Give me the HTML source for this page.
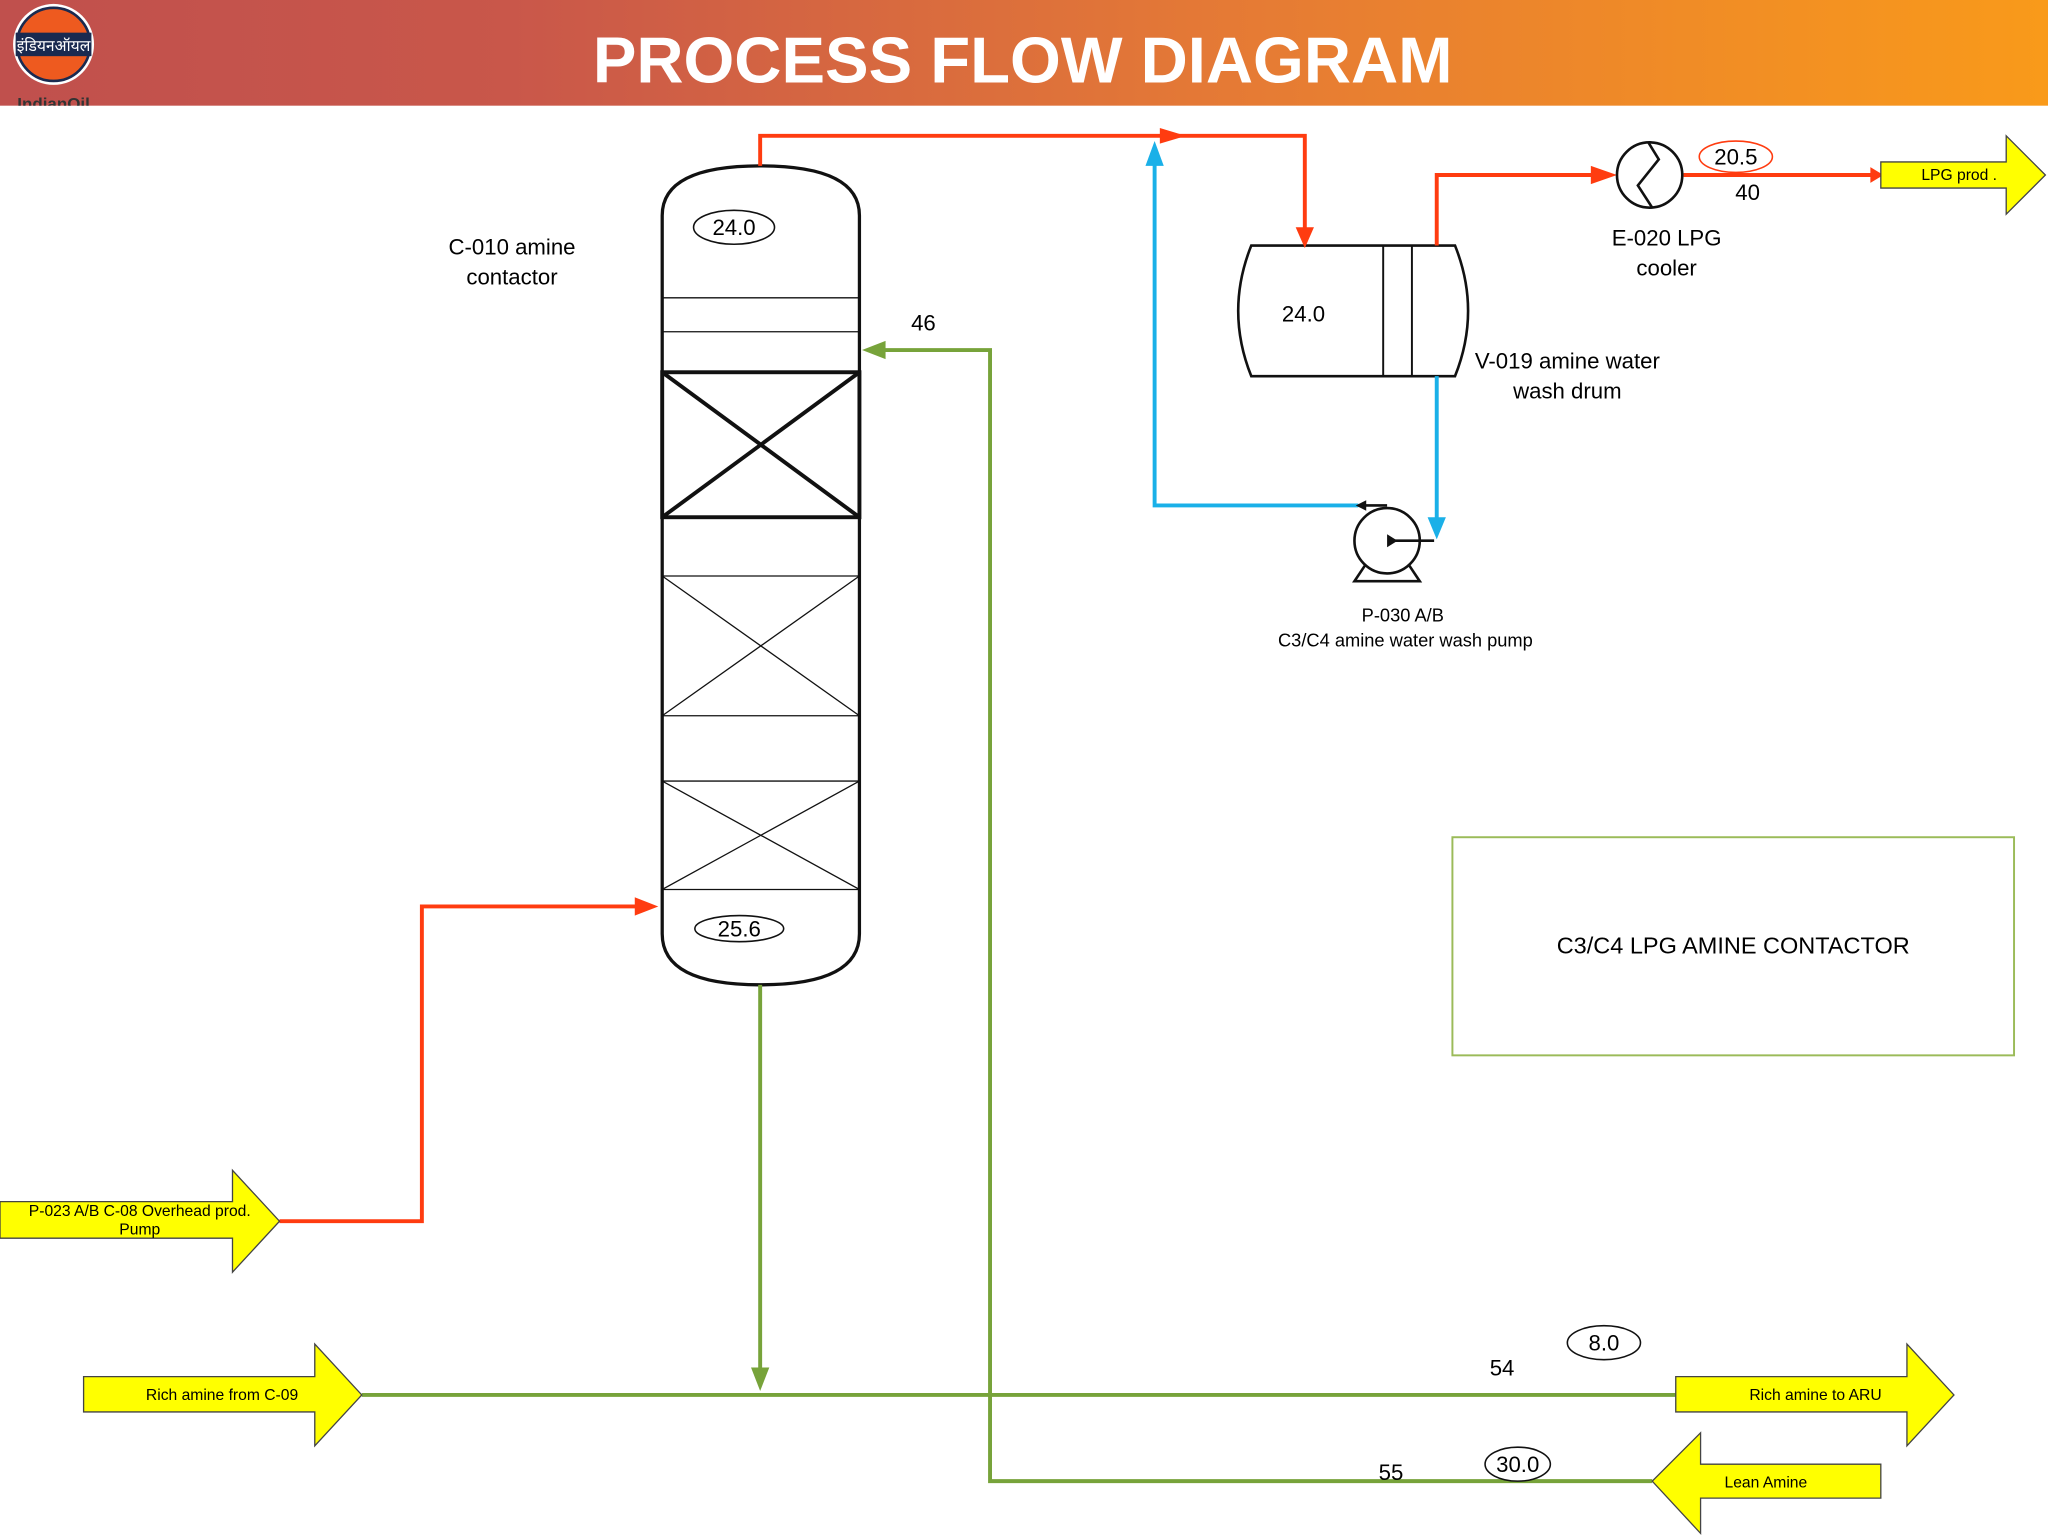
<!DOCTYPE html>
<html><head><meta charset="utf-8"><style>
html,body{margin:0;padding:0;background:#fff;}
svg{display:block;}
text{font-family:"Liberation Sans",Arial,sans-serif;}
</style></head><body>
<svg width="2048" height="1536" viewBox="0 0 1568 1176" xmlns="http://www.w3.org/2000/svg">
<defs>
<linearGradient id="hg" x1="0" x2="1" y1="0" y2="0">
<stop offset="0" stop-color="#c0504d"/><stop offset="0.25" stop-color="#c9574a"/><stop offset="0.6" stop-color="#e57a35"/><stop offset="1" stop-color="#f99a1a"/>
</linearGradient>
</defs>
<rect x="0" y="0" width="1568" height="81" fill="url(#hg)"/>
<circle cx="41" cy="34" r="31" fill="#fff"/>
<circle cx="41" cy="34" r="28" fill="#ee5a1f" stroke="#1a2a50" stroke-width="2"/>
<rect x="12" y="25" width="58" height="18" fill="#1a2a50"/>
<text x="41" y="39" font-size="12" fill="#fff" text-anchor="middle" font-family="sans-serif">इंडियनऑयल</text>
<text x="41" y="84" font-size="13" fill="#333" text-anchor="middle" font-weight="bold">IndianOil</text>
<rect x="0" y="81" width="1568" height="10" fill="#fff"/>
<text x="783" y="63" font-size="50" font-weight="bold" fill="#fff" text-anchor="middle">PROCESS FLOW DIAGRAM</text>

<!-- column -->
<g fill="none" stroke="#111" stroke-width="2.5">
<path d="M507,165 Q507,127 582,127 Q658,127 658,165 L658,715 Q658,754 582,754 Q507,754 507,715 Z"/>
</g>
<g stroke="#111" stroke-width="1">
<line x1="507" y1="228" x2="658" y2="228"/><line x1="507" y1="254" x2="658" y2="254"/>
<line x1="507" y1="441" x2="658" y2="441"/><line x1="507" y1="548" x2="658" y2="548"/>
<line x1="507" y1="441" x2="658" y2="548"/><line x1="658" y1="441" x2="507" y2="548"/>
<line x1="507" y1="598" x2="658" y2="598"/><line x1="507" y1="681" x2="658" y2="681"/>
<line x1="507" y1="598" x2="658" y2="681"/><line x1="658" y1="598" x2="507" y2="681"/>
</g>
<g stroke="#111" stroke-width="3" fill="none">
<rect x="507" y="285" width="151" height="111"/>
<line x1="507" y1="285" x2="658" y2="396"/><line x1="658" y1="285" x2="507" y2="396"/>
</g>
<ellipse cx="562" cy="174" rx="31" ry="13" fill="#fff" stroke="#111" stroke-width="1.2"/>
<text x="562" y="180" font-size="17" text-anchor="middle">24.0</text>
<ellipse cx="566" cy="711" rx="34" ry="10" fill="#fff" stroke="#111" stroke-width="1.2"/>
<text x="566" y="717" font-size="17" text-anchor="middle">25.6</text>
<text x="392" y="195" font-size="17" text-anchor="middle">C-010 amine</text>
<text x="392" y="218" font-size="17" text-anchor="middle">contactor</text>

<!-- drum -->
<path d="M958,188 L1114,188 Q1134,238 1114,288 L958,288 Q938,238 958,188 Z" fill="none" stroke="#111" stroke-width="2"/>
<line x1="1059" y1="188" x2="1059" y2="288" stroke="#111" stroke-width="1.5"/>
<line x1="1081" y1="188" x2="1081" y2="288" stroke="#111" stroke-width="1.5"/>
<text x="998" y="246" font-size="17" text-anchor="middle">24.0</text>
<text x="1200" y="282" font-size="17" text-anchor="middle">V-019 amine water</text>
<text x="1200" y="305" font-size="17" text-anchor="middle">wash drum</text>

<!-- red lines -->
<g stroke="#ff3c10" stroke-width="3" fill="none">
<polyline points="582,127 582,104 999,104 999,180"/>
<polyline points="1100,188 1100,134 1228,134"/>
<polyline points="1289,134 1438,134"/>
<polyline points="214,935 323,935 323,694 495,694"/>
</g>
<g fill="#ff3c10">
<polygon points="888,98 908,104 888,110"/>
<polygon points="992,174 999,190 1006,174"/>
<polygon points="1218,127 1238,134 1218,141"/>
<polygon points="1432,128 1442,134 1432,140"/>
<polygon points="486,687 504,694 486,701"/>
</g>
<!-- cooler -->
<circle cx="1263" cy="134" r="25" fill="#fff" stroke="#111" stroke-width="2"/>
<polyline points="1262,109 1270,122 1254,142 1265,159" fill="none" stroke="#111" stroke-width="2"/>
<text x="1276" y="188" font-size="17" text-anchor="middle">E-020 LPG</text>
<text x="1276" y="211" font-size="17" text-anchor="middle">cooler</text>
<ellipse cx="1329" cy="120" rx="28" ry="12" fill="#fff" stroke="#ff3c10" stroke-width="1.2"/>
<text x="1329" y="126" font-size="17" text-anchor="middle">20.5</text>
<text x="1338" y="153" font-size="17" text-anchor="middle">40</text>

<!-- blue lines -->
<g stroke="#1ab0e8" stroke-width="3" fill="none">
<polyline points="1100,288 1100,400"/>
<polyline points="1040,387 884,387 884,120"/>
</g>
<polygon points="1093,396 1100,413 1107,396" fill="#1ab0e8"/>
<polygon points="877,127 884,108 891,127" fill="#1ab0e8"/>
<!-- pump -->
<g stroke="#111" stroke-width="2" fill="none">
<circle cx="1062" cy="414" r="25"/>
<line x1="1040" y1="387" x2="1062" y2="387"/>
<line x1="1064" y1="414" x2="1098" y2="414"/>
<polyline points="1045,433 1037,445 1087,445 1079,433"/>
</g>
<polygon points="1062,409 1070,414 1062,419" fill="#111"/>
<polygon points="1046,383 1038,387 1046,391" fill="#111"/>
<text x="1074" y="476" font-size="14" text-anchor="middle">P-030 A/B</text>
<text x="1076" y="495" font-size="14" text-anchor="middle">C3/C4 amine water wash  pump</text>

<!-- green lines -->
<g stroke="#77a33a" stroke-width="3" fill="none">
<polyline points="1265,1134 758,1134 758,268 672,268"/>
<polyline points="582,754 582,1052"/>
<polyline points="277,1068 1285,1068"/>
</g>
<polygon points="678,261 660,268 678,275" fill="#77a33a"/>
<polygon points="575,1047 582,1065 589,1047" fill="#77a33a"/>
<text x="707" y="253" font-size="17" text-anchor="middle">46</text>
<text x="1150" y="1053" font-size="17" text-anchor="middle">54</text>
<text x="1065" y="1133" font-size="17" text-anchor="middle">55</text>
<ellipse cx="1228" cy="1028" rx="28" ry="13" fill="#fff" stroke="#111" stroke-width="1.2"/>
<text x="1228" y="1034" font-size="17" text-anchor="middle">8.0</text>
<ellipse cx="1162" cy="1121" rx="25" ry="13" fill="#fff" stroke="#111" stroke-width="1.2"/>
<text x="1162" y="1127" font-size="17" text-anchor="middle">30.0</text>

<!-- yellow arrows -->
<g fill="#ffff00" stroke="#444" stroke-width="1">
<polygon points="1440,124 1536,124 1536,104 1566,134 1536,164 1536,144 1440,144"/>
<polygon points="0,920 178,920 178,896 214,935 178,974 178,948 0,948"/>
<polygon points="64,1054 241,1054 241,1029 277,1068 241,1107 241,1081 64,1081"/>
<polygon points="1283,1054 1460,1054 1460,1029 1496,1068 1460,1107 1460,1081 1283,1081"/>
<polygon points="1440,1121 1302,1121 1302,1097 1265,1134 1302,1174 1302,1147 1440,1147"/>
</g>
<text x="1500" y="138" font-size="12" text-anchor="middle">LPG  prod .</text>
<text x="107" y="931" font-size="12" text-anchor="middle">P-023 A/B  C-08 Overhead prod.</text>
<text x="107" y="945" font-size="12" text-anchor="middle">Pump</text>
<text x="170" y="1072" font-size="12" text-anchor="middle">Rich amine from C-09</text>
<text x="1390" y="1072" font-size="12" text-anchor="middle">Rich amine to ARU</text>
<text x="1352" y="1139" font-size="12" text-anchor="middle">Lean Amine</text>

<!-- title box -->
<rect x="1112" y="641" width="430" height="167" fill="#fff" stroke="#9bbb59" stroke-width="1.5"/>
<text x="1327" y="730" font-size="18" text-anchor="middle">C3/C4  LPG AMINE CONTACTOR</text>
</svg>
</body></html>
